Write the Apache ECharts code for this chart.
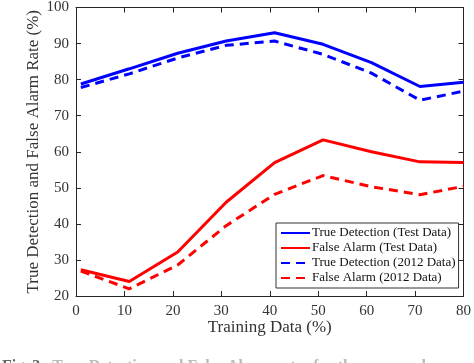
<!DOCTYPE html>
<html><head><meta charset="utf-8">
<script src="https://cdn.jsdelivr.net/npm/echarts@6/dist/echarts.min.js"></script>
<style>html,body{margin:0;padding:0;background:#fff}#c{width:474px;height:363px}</style>
</head><body><div id="c"></div>
<script>
const xValues = [1, 11, 21, 31, 41, 51, 61, 71, 80];
const trueDetTest = [78.8, 83.0, 87.3, 90.7, 93.0, 89.8, 84.7, 78.1, 79.3];
const falseAlarmTest = [27.3, 24.0, 32.2, 46.0, 57.0, 63.3, 60.0, 57.2, 57.0];
const trueDet2012 = [77.8, 81.6, 86.0, 89.5, 90.7, 87.0, 81.8, 74.3, 76.8];
const falseAlarm2012 = [26.9, 22.0, 28.6, 39.5, 48.2, 53.4, 50.3, 48.1, 50.4];
const seriesNames = ['True Detection (Test Data)', 'False Alarm (Test Data)', 'True Detection (2012 Data)', 'False Alarm (2012 Data)'];
const xTicks = [0, 10, 20, 30, 40, 50, 60, 70, 80];
const yTicks = [20, 30, 40, 50, 60, 70, 80, 90, 100];

const font = '"Liberation Serif","DejaVu Serif",serif';
const axisCol = '#262626';
function pairs(v){ return xValues.map((x,i)=>[x,v[i]]); }
function mk(name, data, color, dashed){
  return {name, type:'line', data:pairs(data), symbol:'none', showSymbol:false,
    lineStyle:{color, width:3, type: dashed ? [9,6] : 'solid'}, itemStyle:{color},
    xAxisIndex:0, yAxisIndex:0, animation:false};
}
const chart = echarts.init(document.getElementById('c'), null, {renderer:'canvas'});
const baseX = {type:'value', min:xTicks[0], max:xTicks[xTicks.length-1], interval:10,
  axisLine:{show:true, onZero:false, lineStyle:{color:axisCol, width:1}},
  axisTick:{show:true, inside:true, length:5, lineStyle:{color:axisCol}},
  splitLine:{show:false}};
const baseY = {type:'value', min:yTicks[0], max:yTicks[yTicks.length-1], interval:10,
  axisLine:{show:true, onZero:false, lineStyle:{color:axisCol, width:1}},
  axisTick:{show:true, inside:true, length:5, lineStyle:{color:axisCol}},
  splitLine:{show:false}};
chart.setOption({
  animation:false,
  grid:{left:76, right:8, top:6, bottom:67, containLabel:false},
  xAxis:[
    Object.assign({}, baseX, {position:'bottom',
      axisLabel:{color:'#333', fontFamily:font, fontSize:15, margin:8},
      name:'Training Data (%)', nameLocation:'middle', nameGap:23, nameMoveOverlap:false,
      nameTextStyle:{color:'#333', fontFamily:font, fontSize:17}}),
    Object.assign({}, baseX, {position:'top', axisLabel:{show:false}})
  ],
  yAxis:[
    Object.assign({}, baseY, {position:'left',
      axisLabel:{color:'#333', fontFamily:font, fontSize:15, margin:7},
      name:'True Detection and False Alarm Rate (%)', nameLocation:'middle', nameGap:34, nameMoveOverlap:false,
      nameTextStyle:{color:'#333', fontFamily:font, fontSize:17}}),
    Object.assign({}, baseY, {position:'right', axisLabel:{show:false}})
  ],
  legend:{
    orient:'vertical', left:276, top:223,
    data:seriesNames,
    itemWidth:29, itemHeight:10, itemGap:1,
    padding:[3,3,3,4],
    itemStyle:{opacity:0},
    borderColor:'#333', borderWidth:1, backgroundColor:'#fff',
    textStyle:{color:'#111', fontFamily:font, fontSize:13, lineHeight:14, padding:[0,0,0,-3]}
  },
  series:[
    mk(seriesNames[0], trueDetTest, '#0000ff', false),
    mk(seriesNames[1], falseAlarmTest, '#ff0000', false),
    mk(seriesNames[2], trueDet2012, '#0000ff', true),
    mk(seriesNames[3], falseAlarm2012, '#ff0000', true)
  ],
  graphic:[{type:'text', left:2, top:359,
    style:{text:'{a|Fig. 3.}  True Detection and False Alarm rates for the proposed',
      fill:'#bbb', font:'bold 16px ' + font,
      rich:{a:{fill:'#666', font:'bold 16px ' + font}}}}]
});
</script></body></html>
